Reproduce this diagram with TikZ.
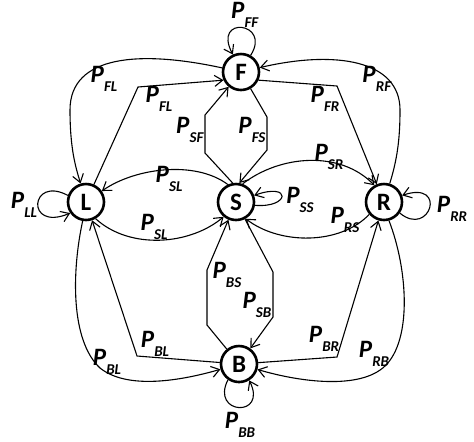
\documentclass[tikz,border=0pt]{standalone}
\usepackage{fontspec}
\setmainfont{Carlito}
\usetikzlibrary{arrows.meta}
\newcommand{\prb}[1]{\textbf{\textit{P}\raisebox{-0.7ex}{\fontsize{7.5pt}{8pt}\selectfont\textbf{\textit{#1}}}}}

\begin{document}
\begin{tikzpicture}[x=0.5pt,y=-0.5pt]
        \tikzstyle{state}=[circle,draw=black,line width=1.3pt,minimum size=18pt,inner sep=0pt,font=\fontsize{12.5pt}{14pt}\selectfont\bfseries]
        \tikzstyle{arr}=[-{Straight Barb[length=4pt,width=5.5pt]},line width=0.55pt]
        \tikzstyle{lbl}=[inner sep=0pt,font=\fontsize{12.5pt}{14pt}\selectfont]
        \useasboundingbox (0,0) rectangle (474,441);
        \node[state] (F) at (241,72) {F};
        \node[state] (L) at (86,202) {L};
        \node[state] (S) at (236,202) {S};
        \node[state] (R) at (384,202) {R};
        \node[state] (B) at (239,364) {B};
        % self loops
        \draw[arr] (F.60) .. controls (272,22) and (212,15) .. (F.115);
        \draw[arr] (L.160) .. controls (30,175) and (25,232) .. (L.215);
        \draw[arr] (S.-10) .. controls (290,208) and (292,182) .. (S.20);
        \draw[arr] (R.-35) .. controls (430,238) and (448,180) .. (R.20);
        \draw[arr] (B.235) .. controls (210,415) and (268,418) .. (B.-58);
        % straight connectors
        \draw[arr] (L) -- (138,87) -- (F.205);
        \draw[arr] (F.335) -- (337,86) -- (R);
        \draw[arr] (S.100) -- (205,153) -- (205,115) -- (F);
        \draw[arr] (F) -- (267,117) -- (267,150) -- (S.80);
        \draw[arr] (B) -- (207,325) -- (207,270) -- (S);
        \draw[arr] (S) -- (273,272) -- (273,317) -- (B);
        \draw[arr] (B) -- (137,356) -- (L);
        \draw[arr] (B) -- (337,357) -- (R);
        % curved connectors
        \draw[arr] (F) .. controls (140,50) and (70,55) .. (70,110) .. controls (70,150) and (76,168) .. (L);
        \draw[arr] (R) .. controls (397,160) and (400,140) .. (400,110) .. controls (400,60) and (335,50) .. (F);
        \draw[arr] (S.115) .. controls (195,160) and (135,168) .. (L);
        \draw[arr] (L.-60) .. controls (130,250) and (190,245) .. (S.230);
        \draw[arr] (S.70) .. controls (280,155) and (340,150) .. (R.120);
        \draw[arr] (R.220) .. controls (340,245) and (280,245) .. (S.-60);
        \draw[arr] (L.-100) .. controls (72,270) and (70,340) .. (100,368) .. controls (130,392) and (190,378) .. (B);
        \draw[arr] (R.-75) .. controls (408,270) and (412,340) .. (385,366) .. controls (360,390) and (300,382) .. (B);
        % labels
        \node[lbl] (pff) at (245,15) {\prb{FF}};
        \node[lbl] (pfl1) at (104,79) {\prb{FL}};
        \node[lbl] (pfl2) at (159,99) {\prb{FL}};
        \node[lbl] (pfr) at (325,99) {\prb{FR}};
        \node[lbl] (prf) at (377,79) {\prb{RF}};
        \node[lbl] (psf) at (190,130) {\prb{SF}};
        \node[lbl] (pfs) at (252,130) {\prb{FS}};
        \node[lbl] (psr) at (329,157) {\prb{SR}};
        \node[lbl] (psl1) at (169,179) {\prb{SL}};
        \node[lbl] (pss) at (300,200) {\prb{SS}};
        \node[lbl] (pll) at (24,205) {\prb{LL}};
        \node[lbl] (prr) at (452,209) {\prb{RR}};
        \node[lbl] (prs) at (345,220) {\prb{RS}};
        \node[lbl] (psl2) at (154,227) {\prb{SL}};
        \node[lbl] (pbs) at (227,275) {\prb{BS}};
        \node[lbl] (psb) at (257,305) {\prb{SB}};
        \node[lbl] (pbl1) at (155,344) {\prb{BL}};
        \node[lbl] (pbr) at (324,339) {\prb{BR}};
        \node[lbl] (pbl2) at (107,362) {\prb{BL}};
        \node[lbl] (prb) at (374,354) {\prb{RB}};
        \node[lbl] (pbb) at (240,425) {\prb{BB}};
\end{tikzpicture}
\end{document}
